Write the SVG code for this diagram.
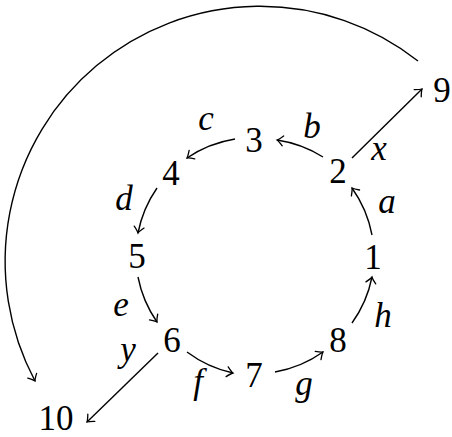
<svg xmlns="http://www.w3.org/2000/svg" width="452" height="437" viewBox="0 0 452 437" font-family="Liberation Serif, Times New Roman, Tinos, Nimbus Roman, Noto Serif, DejaVu Serif, FreeSerif, serif">
<style>
text{font-size:35px;text-anchor:middle;fill:#000}
.l{font-style:italic}
.e{fill:none;stroke:#000;stroke-width:1.4;marker-end:url(#to)}
</style>
<defs>
<marker id="to" viewBox="-8 -7 10 14" markerWidth="10" markerHeight="14" refX="0" refY="0" orient="auto" markerUnits="userSpaceOnUse" overflow="visible">
<path d="M -6,-5 Q -2,-1 0,0 Q -2,1 -6,5" fill="none" stroke="#000" stroke-width="1.3" stroke-linecap="round"/>
</marker>
</defs>
<rect width="452" height="437" fill="#fff"/>
<g id="connectors">
<path class="e" d="M 372,235 A 119 119 0 0 0 352,188"/>
<path class="e" d="M 323,157 A 119 119 0 0 0 277,140"/>
<path class="e" d="M 235,139 A 119 119 0 0 0 187,158"/>
<path class="e" d="M 157,188 A 119 119 0 0 0 138,233"/>
<path class="e" d="M 138,277 A 119 119 0 0 0 157,322"/>
<path class="e" d="M 187,352 A 119 119 0 0 0 233,373"/>
<path class="e" d="M 275,372 A 119 119 0 0 0 323,352"/>
<path class="e" d="M 352,323 A 119 119 0 0 0 372,277"/>
<path class="e" d="M 352,158 L 422,89"/>
<path class="e" d="M 158,353 L 87,422"/>
<path class="e" d="M 418,61 A 255 255 0 0 0 35,381"/>
<text class="l" x="387" y="213">a</text>
<text class="l" x="312" y="138">b</text>
<text class="l" x="206" y="130">c</text>
<text class="l" x="124" y="210">d</text>
<text class="l" x="121" y="316">e</text>
<text class="l" x="198" y="393">f</text>
<text class="l" x="304" y="395">g</text>
<text class="l" x="383" y="327">h</text>
<text class="l" x="379" y="160">x</text>
<text class="l" x="128" y="361">y</text>
</g>
<g id="n1"><text x="373" y="269">1</text></g>
<g id="n2"><text x="338" y="183">2</text></g>
<g id="n3"><text x="254" y="152">3</text></g>
<g id="n4"><text x="171" y="185">4</text></g>
<g id="n5"><text x="137" y="268">5</text></g>
<g id="n6"><text x="172" y="352">6</text></g>
<g id="n7"><text x="254" y="387">7</text></g>
<g id="n8"><text x="338" y="352">8</text></g>
<g id="n9"><text x="442" y="102">9</text></g>
<g id="n10"><text x="56" y="430">10</text></g>
</svg>
